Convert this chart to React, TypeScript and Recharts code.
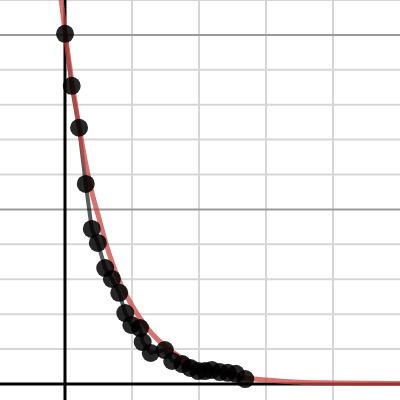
import React from 'react';
import { ComposedChart, Line, Scatter, XAxis, YAxis, ReferenceLine } from 'recharts';

const pointX = [0, 0.1, 0.21, 0.31, 0.4, 0.49, 0.6, 0.7, 0.81, 0.9, 0.99, 1.12, 1.16, 1.28, 1.49, 1.6, 1.75, 1.87, 1.99, 2.09, 2.19, 2.31, 2.43, 2.55, 2.69];
const pointY = [10.03, 8.54, 7.34, 5.73, 4.44, 4.04, 3.32, 3.01, 2.61, 2.03, 1.69, 1.6, 1.2, 0.89, 0.97, 0.66, 0.57, 0.46, 0.37, 0.37, 0.4, 0.34, 0.32, 0.29, 0.14];

// fitted curve
const fitX = [-0.08, -0.05, 0, 0.1, 0.2, 0.3, 0.4, 0.5, 0.6, 0.7, 0.8, 1.0, 1.2, 1.4, 1.6, 1.8, 2.0, 2.3, 2.6, 3.0, 3.5, 4.0, 5.0];
const fitY = [11.4, 10.9, 10.1, 8.7, 7.5, 6.4, 5.5, 4.8, 4.1, 3.5, 3.0, 2.25, 1.67, 1.24, 0.92, 0.68, 0.5, 0.32, 0.2, 0.11, 0.05, 0.03, 0.01];

// grid
const minorX = [1, 2, 3, 4];
const minorY = [1, 2, 3, 4, 6, 7, 8, 9, 11];
const majorY = [5, 10];

const points = pointX.map((x, i) => ({ x, y: pointY[i] }));
const fit = fitX.map((x, i) => ({ x, y: fitY[i] }));

const Dot = (props: any) => (
  <circle cx={props.cx} cy={props.cy} r={9} fill="#000" fillOpacity={0.85} />
);

const App: React.FC = () => {
  return (
    <div style={{ position: 'absolute', left: 0, top: 0, width: 400, height: 400, background: '#fff' }}>
      <ComposedChart width={400} height={400} margin={{ top: 0, right: 0, bottom: 0, left: 0 }}>
        <XAxis type="number" dataKey="x" domain={[-0.97, 5]} allowDataOverflow hide />
        <YAxis type="number" dataKey="y" domain={[-0.46, 11]} allowDataOverflow hide />
        {minorX.map((v) => (
          <ReferenceLine key={'mx' + v} x={v} stroke="#d6d6d6" strokeWidth={2} />
        ))}
        {minorY.map((v) => (
          <ReferenceLine key={'my' + v} y={v} stroke="#d6d6d6" strokeWidth={2} />
        ))}
        {majorY.map((v) => (
          <ReferenceLine key={'My' + v} y={v} stroke="#999" strokeWidth={2} />
        ))}
        <ReferenceLine x={0} stroke="#000" strokeWidth={3} />
        <ReferenceLine y={0} stroke="#000" strokeWidth={3} />
        <Line
          data={points}
          dataKey="y"
          type="linear"
          stroke="#000"
          strokeOpacity={0.65}
          strokeWidth={4}
          dot={false}
          isAnimationActive={false}
        />
        <Scatter data={points} dataKey="y" shape={Dot} isAnimationActive={false} />
        <Line
          data={fit}
          dataKey="y"
          type="monotone"
          stroke="#c74440"
          strokeOpacity={0.75}
          strokeWidth={5}
          dot={false}
          isAnimationActive={false}
        />
      </ComposedChart>
    </div>
  );
};

export default App;
